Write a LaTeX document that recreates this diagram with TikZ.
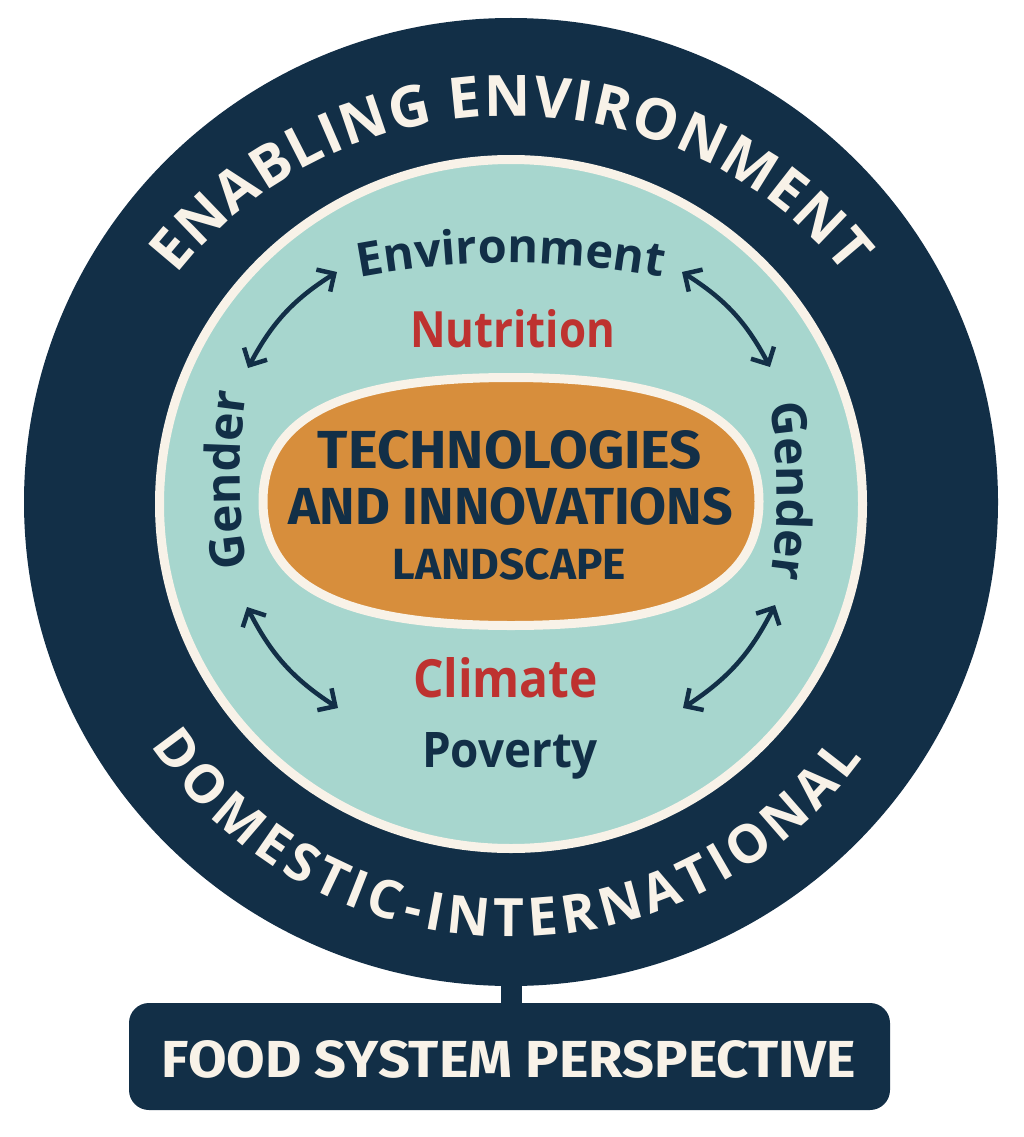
\documentclass[tikz,border=0pt]{standalone}
\usepackage{fontspec}
\usepackage{graphicx}
\setmainfont{Open Sans}
\newfontfamily\opensans{Open Sans}
\newfontfamily\fira{Fira Sans}
\usetikzlibrary{decorations.text,arrows.meta,shapes.geometric}
\definecolor{cnavy}{RGB}{18,47,71}
\definecolor{cteal}{RGB}{167,214,206}
\definecolor{ccream}{RGB}{248,242,232}
\definecolor{corange}{RGB}{215,142,60}
\definecolor{cred}{RGB}{190,50,48}
\newcommand\topfont{\opensans\bfseries\fontsize{57pt}{64pt}\selectfont\color{ccream}}
\newcommand\botfont{\opensans\bfseries\fontsize{53pt}{60pt}\selectfont\color{ccream}}
\newcommand\envfont{\opensans\bfseries\fontsize{47pt}{54pt}\selectfont\color{cnavy}}
\newcommand\genfont{\opensans\bfseries\fontsize{48pt}{55pt}\selectfont\color{cnavy}}
\newcommand\osb{\opensans\bfseries\fontsize{40pt}{48pt}\selectfont}
\newcommand\fsb{\fira\bfseries\fontsize{40pt}{48pt}\selectfont}
\begin{document}
\begin{tikzpicture}[x=1pt,y=1pt,
  lbl/.style={inner sep=0pt, anchor=base},
  arr/.style={cnavy, line width=4.5pt,
    {Straight Barb[length=13pt,width=26pt]}-{Straight Barb[length=13pt,width=26pt]}},
  curvetext/.style={decorate, decoration={text along path, text align=center}}]
\useasboundingbox (0,0) rectangle (1024,-1137);
\fill[white] (0,0) rectangle (1024,-1137);

% outer ring
\node[ellipse, fill=cnavy, draw=none, inner sep=0pt,
  minimum width=974pt, minimum height=968pt] (outer) at (511,-502) {};
% food system perspective box
\node[fill=cnavy, rounded corners=20pt, inner sep=0pt,
  minimum width=761pt, minimum height=107pt] (fsp) at (509.5,-1056.5) {};
\draw[cnavy, line width=21pt] (outer.south) -- (outer.south |- fsp.north);
\node[lbl, text=ccream] (fsptext) at (509,-1077)
  {\resizebox{694pt}{37pt}{\fsb FOOD SYSTEM PERSPECTIVE}};

% inner circle
\draw[ccream, line width=9pt, fill=cteal] (511,-504) ellipse[x radius=351.5pt, y radius=344.5pt];

% core oval
\draw[ccream, line width=9pt, fill=corange]
  (759,-501.5) .. controls (759,-417.2) and (679.6,-377.5) .. (511,-377.5)
  .. controls (342.4,-377.5) and (263,-417.2) .. (263,-501.5)
  .. controls (263,-585.8) and (342.4,-625.5) .. (511,-625.5)
  .. controls (679.6,-625.5) and (759,-585.8) .. (759,-501.5) -- cycle;

\node[lbl, text=cnavy] (tech1) at (510,-468) {\resizebox{384pt}{38pt}{\fsb TECHNOLOGIES}};
\node[lbl, text=cnavy] (tech2) at (510.5,-524) {\resizebox{445pt}{37pt}{\fsb AND INNOVATIONS}};
\node[lbl, text=cnavy] (tech3) at (509.5,-579) {\resizebox{233pt}{31pt}{\fsb LANDSCAPE}};

% ring texts
\path[decorate, decoration={text along path, text align={fit to path},
  text={|\topfont|ENABLING ENVIRONMENT}}]
  (511,-502) ++(144:413pt and 386pt) arc[start angle=144, end angle=36, x radius=413pt, y radius=386pt];
\path[decorate, decoration={text along path, text align={fit to path},
  text={|\botfont|DOMESTIC-INTERNATIONAL}}]
  (511,-502) ++(214:435pt) arc[start angle=214, end angle=324, radius=435pt];

% inner labels
\path[curvetext, decoration={text={|\envfont|Environment}}]
  (511,-1073) ++(110:810pt) arc[start angle=110, end angle=70, radius=810pt];
\path[curvetext, decoration={text={|\genfont|Gender}}]
  (840,-480) ++(195:600pt) arc[start angle=195, end angle=165, radius=600pt];
\path[curvetext, decoration={text={|\genfont|Gender}}]
  (177,-491) ++(15:600pt) arc[start angle=15, end angle=-15, radius=600pt];

\node[lbl, text=cred] (nutrition) at (512.5,-347) {\resizebox{205pt}{38pt}{\osb Nutrition}};
\node[lbl, text=cred] (climate) at (505.5,-697) {\resizebox{185pt}{40pt}{\osb Climate}};
\node[lbl, text=cnavy] (poverty) at (510,-767) {\resizebox{176pt}{35pt}{\osb Poverty}};

% arrows
\coordinate (a1s) at (248,-368); \coordinate (a1e) at (337,-272);
\coordinate (a2s) at (682,-272); \coordinate (a2e) at (770,-367);
\coordinate (a3s) at (247,-607); \coordinate (a3e) at (338,-708);
\coordinate (a4s) at (775,-605); \coordinate (a4e) at (683,-708);
\draw[arr] (a1s) to[bend left=15] (a1e);
\draw[arr] (a2s) to[bend left=15] (a2e);
\draw[arr] (a3s) to[bend right=15] (a3e);
\draw[arr] (a4s) to[bend left=15] (a4e);
\end{tikzpicture}
\end{document}
